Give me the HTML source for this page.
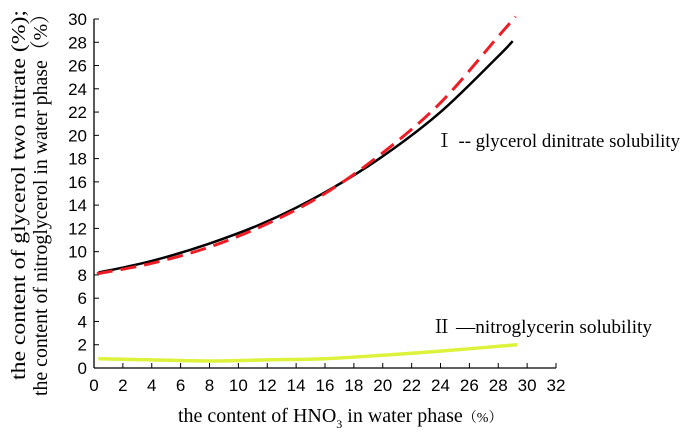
<!DOCTYPE html>
<html><head><meta charset="utf-8"><style>
body{margin:0;background:#fff}
svg text{font-family:"Liberation Serif","Noto Serif CJK SC",serif}
.tk{font-family:"Liberation Sans",sans-serif;font-size:17px}
</style></head><body>
<svg width="685" height="435">
<g id="axes"></g>
<g id="series"></g>
<text x="435" y="147" font-size="19" textLength="245" lengthAdjust="spacingAndGlyphs">Ⅰ -- glycerol dinitrate solubility</text>
<text x="432" y="333" font-size="19" textLength="220" lengthAdjust="spacingAndGlyphs">Ⅱ —nitroglycerin solubility</text>
<text x="178" y="422" font-size="20">the content of HNO<tspan font-size="12" dy="6">3</tspan><tspan dy="-6"> in water phase</tspan><tspan font-size="14">（%）</tspan></text>
<g transform="translate(0,200) rotate(-90)">
<text x="5" y="25" text-anchor="middle" font-size="20" textLength="370" lengthAdjust="spacingAndGlyphs">the content of glycerol two nitrate (%);</text>
<text x="0" y="47" text-anchor="middle" font-size="20" textLength="392" lengthAdjust="spacingAndGlyphs">the content of nitroglycerol in water phase（%）</text>
</g>
</svg>
<script>
const xTicks=[0,2,4,6,8,10,12,14,16,18,20,22,24,26,28,30,32];
const yTicks=[0,2,4,6,8,10,12,14,16,18,20,22,24,26,28,30];
const blackX=[0.3,4,8,12,16,20,24,28,29];
const blackY=[8.2,9.2,10.7,12.6,15.1,18.2,22,26.8,28.1];
const redX=[0.2,4,8,12,16,20,24,28,29.2];
const redY=[8.1,9.0,10.4,12.4,15.0,18.5,22.8,28.5,30.2];
const greenX=[0.3,4,8,12,16,20,24,29.3];
const greenY=[0.8,0.7,0.6,0.7,0.8,1.1,1.45,2.0];
const X=v=>94+v*(556-94)/32, Y=v=>368-v*(368-19)/30;
const NS="http://www.w3.org/2000/svg";
const ax=document.getElementById('axes'), se=document.getElementById('series');
function mk(tag,attrs,parent){const e=document.createElementNS(NS,tag);for(const k in attrs)e.setAttribute(k,attrs[k]);parent.appendChild(e);return e;}
let l=mk('line',{x1:X(0),y1:Y(0),x2:X(32),y2:Y(0),stroke:'#000','stroke-width':1.3},ax);


l=mk('line',{x1:X(0),y1:Y(0),x2:X(0),y2:Y(30),stroke:'#000','stroke-width':1.3},ax);


xTicks.forEach(t=>{mk('line',{x1:X(t),y1:Y(0),x2:X(t),y2:Y(0)-5,stroke:'#000'},ax);
const tx=mk('text',{x:X(t),y:391,'text-anchor':'middle',class:'tk'},ax);tx.textContent=t;

});
yTicks.forEach(t=>{mk('line',{x1:X(0),y1:Y(t),x2:X(0)+5,y2:Y(t),stroke:'#000'},ax);
const tx=mk('text',{x:87,y:Y(t)+6,'text-anchor':'end',class:'tk'},ax);tx.textContent=t;

});
function path(xs,ys){let d='M'+X(xs[0])+','+Y(ys[0]);for(let i=1;i<xs.length;i++){const x0=X(xs[i-1]),y0=Y(ys[i-1]),x1=X(xs[i]),y1=Y(ys[i]);const pm=i>1?[X(xs[i-2]),Y(ys[i-2])]:[x0,y0];const pn=i<xs.length-1?[X(xs[i+1]),Y(ys[i+1])]:[x1,y1];
d+=` C${x0+(x1-pm[0])/6},${y0+(y1-pm[1])/6} ${x1-(pn[0]-x0)/6},${y1-(pn[1]-y0)/6} ${x1},${y1}`;}return d;}
let p=mk('path',{d:path(greenX,greenY),fill:'none',stroke:'#ddf23a','stroke-width':3.5},se);


p=mk('path',{d:path(blackX,blackY),fill:'none',stroke:'#000','stroke-width':2.5},se);


p=mk('path',{d:path(redX,redY),fill:'none',stroke:'#ee1c24','stroke-width':3,'stroke-dasharray':'16,8'},se);


</script>
</body></html>
